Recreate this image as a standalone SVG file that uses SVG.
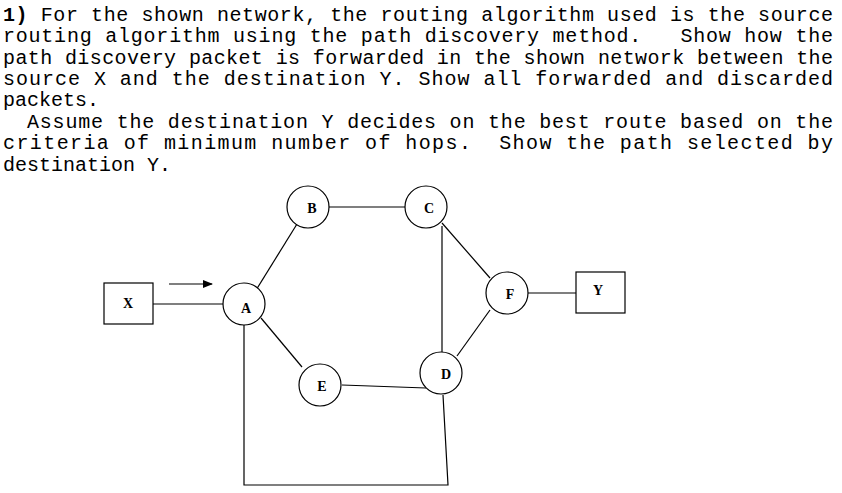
<svg xmlns="http://www.w3.org/2000/svg" width="842" height="493" viewBox="0 0 842 493">
<style>
.t{font-family:"Liberation Mono",monospace;font-size:20px;fill:#000}
.n{fill:#fff;stroke:#000;stroke-width:1.2}
.l{font-family:"Liberation Serif",serif;font-size:14px;font-weight:bold;text-anchor:middle;fill:#000}
.c{stroke:#000;stroke-width:1.2;fill:none}
</style>
<defs><marker id="ah" markerWidth="10" markerHeight="8" refX="9" refY="4" orient="auto" markerUnits="userSpaceOnUse"><path d="M0,0L10,4L0,8z"/></marker></defs>
<g id="text">
<text class="t" x="3" y="21" textLength="830" lengthAdjust="spacing"><tspan font-weight="bold">1)</tspan> For the shown network, the routing algorithm used is the source</text>
<text class="t" x="3" y="42" textLength="830" lengthAdjust="spacing" xml:space="preserve">routing algorithm using the path discovery method.   Show how the</text>
<text class="t" x="3" y="64" textLength="830" lengthAdjust="spacing">path discovery packet is forwarded in the shown network between the</text>
<text class="t" x="3" y="85" textLength="830" lengthAdjust="spacing">source X and the destination Y. Show all forwarded and discarded</text>
<text class="t" x="3" y="106">packets.</text>
<text class="t" x="27" y="128" textLength="806" lengthAdjust="spacing">Assume the destination Y decides on the best route based on the</text>
<text class="t" x="3" y="149" textLength="830" lengthAdjust="spacing" xml:space="preserve">criteria of minimum number of hops.  Show the path selected by</text>
<text class="t" x="3" y="171">destination Y.</text>
</g>
<g id="connectors">
<line class="c" x1="153" y1="304" x2="224" y2="304"/>
<line class="c" x1="253" y1="295" x2="297" y2="224"/>
<line class="c" x1="329" y1="207" x2="405" y2="207"/>
<line class="c" x1="442" y1="223" x2="490" y2="278"/>
<line class="c" x1="442" y1="226" x2="442" y2="352"/>
<line class="c" x1="490" y1="310" x2="457" y2="356"/>
<line class="c" x1="528" y1="293" x2="576" y2="293"/>
<line class="c" x1="261" y1="318" x2="302" y2="367"/>
<line class="c" x1="342" y1="385" x2="426" y2="388"/>
<polyline class="c" points="244,324 244,485 448,485 443,395"/>
<line class="c" x1="169" y1="284" x2="212" y2="284" marker-end="url(#ah)"/>
</g>
<g id="X"><rect class="n" x="104" y="283" width="49" height="41"/><text class="l" x="128" y="308">X</text></g>
<g id="Y"><rect class="n" x="576" y="272" width="49" height="41"/><text class="l" x="598" y="295">Y</text></g>
<g id="A"><circle class="n" cx="244" cy="304" r="21"/><text class="l" x="246" y="313">A</text></g>
<g id="B"><circle class="n" cx="308" cy="207" r="21"/><text class="l" x="312" y="213">B</text></g>
<g id="C"><circle class="n" cx="426" cy="207" r="21"/><text class="l" x="429" y="213">C</text></g>
<g id="F"><circle class="n" cx="507" cy="293" r="21"/><text class="l" x="510" y="299">F</text></g>
<g id="E"><circle class="n" cx="320" cy="385" r="21"/><text class="l" x="322" y="391">E</text></g>
<g id="D"><circle class="n" cx="441" cy="373" r="21"/><text class="l" x="446" y="379">D</text></g>
</svg>
